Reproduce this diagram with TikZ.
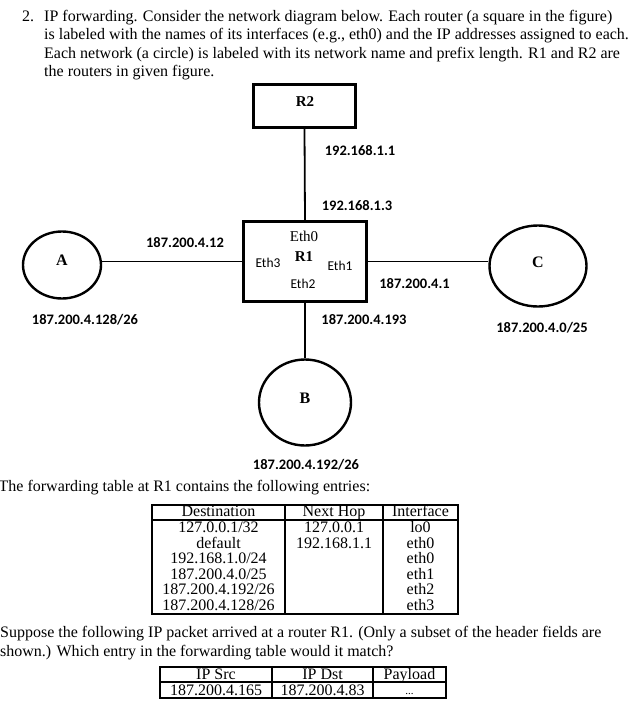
\documentclass[tikz,border=0pt]{standalone}
\usepackage{fontspec}
\setmainfont{Liberation Serif}
\newfontfamily\calibri{Carlito}
\usetikzlibrary{shapes.geometric}
\begin{document}
\begin{tikzpicture}[x=1pt,y=-1pt,
  body/.style={inner sep=0,anchor=base west,font=\fontsize{16}{16}\selectfont},
  router/.style={draw,rectangle,line width=2.4pt,inner sep=0},
  net/.style={draw,ellipse,line width=2.4pt,inner sep=0},
  link/.style={line width=1.8pt},
  ip/.style={inner sep=0,font=\calibri\bfseries\fontsize{14.5}{15}\selectfont},
  eth/.style={inner sep=0,font=\calibri\fontsize{13.5}{14}\selectfont},
  ethser/.style={inner sep=0,font=\fontsize{15}{15}\selectfont},
  rname/.style={inner sep=0,font=\bfseries\fontsize{15}{15}\selectfont},
  netname/.style={inner sep=0,font=\bfseries\fontsize{16}{16}\selectfont},
  cell/.style={inner sep=0,anchor=base,font=\fontsize{16}{16}\selectfont},
  grid/.style={line width=1.2pt}]
\useasboundingbox (0,0) rectangle (635,723);
\fill[white] (0,0) rectangle (635,723);

% question text
\node[body] (n2) at (22,21) {2.};
\node[body] (p1) at (44,21) {IP forwarding. Consider the network diagram below. Each router (a square in the figure)};
\node[body] (p2) at (44,39.5) {is labeled with the names of its interfaces (e.g., eth0) and the IP addresses assigned to each.};
\node[body] (p3) at (44,58) {Each network (a circle) is labeled with its network name and prefix length. R1 and R2 are};
\node[body] (p4) at (44,76.5) {the routers in given figure.};

% diagram
\node[router,minimum width=102,minimum height=43] (R2) at (304.5,106) {};
\node[rname] (R2lab) at (305,102) {R2};
\node[router,minimum width=123,minimum height=80] (R1) at (305,261.5) {};
\node[net,minimum width=78,minimum height=67] (A) at (62,265) {};
\node[net,minimum width=92,minimum height=86] (B) at (305,402.5) {};
\node[net,minimum width=97,minimum height=81] (C) at (538,266) {};

\draw[link] (R2.south) -- (R1.north);
\draw[link] (R1.west) -- (R1.west -| A.east);
\draw[link] (R1.east) -- (R1.east -| C.west);
\draw[link] (R1.south) -- (B.north);

\node[ethser] (eth0) at (304,236) {Eth0};
\node[rname] (R1lab) at (304,257) {R1};
\node[eth] (eth3) at (268,263) {Eth3};
\node[eth] (eth1) at (340,266) {Eth1};
\node[eth] (eth2) at (303,284) {Eth2};

\node[netname] (Alab) at (62,260) {A};
\node[netname] (Blab) at (305,398) {B};
\node[netname] (Clab) at (538,262) {C};

\node[ip] (ip1) at (360,151) {192.168.1.1};
\node[ip] (ip2) at (357,206) {192.168.1.3};
\node[ip] (ip3) at (185,243) {187.200.4.12};
\node[ip] (ip4) at (414.5,284) {187.200.4.1};
\node[ip] (ip5) at (364,320) {187.200.4.193};
\node[ip] (netA) at (85,320) {187.200.4.128/26};
\node[ip] (netC) at (542,328) {187.200.4.0/25};
\node[ip] (netB) at (306,465) {187.200.4.192/26};

% forwarding table
\node[body] (t1) at (-1.5,491) {The forwarding table at R1 contains the following entries:};
\draw[grid] (152,505) rectangle (458,614);
\draw[grid] (152,520) -- (458,520);
\draw[grid] (285,505) -- (285,614);
\draw[grid] (383,505) -- (383,614);
\node[cell] (h1) at (218.5,516) {Destination};
\node[cell] (h2) at (334,516) {Next Hop};
\node[cell] (h3) at (420.5,516) {Interface};
\node[cell] (d1) at (218.5,532.5) {127.0.0.1/32};
\node[cell] (d2) at (218.5,548.1) {default};
\node[cell] (d3) at (218.5,563.7) {192.168.1.0/24};
\node[cell] (d4) at (218.5,579.3) {187.200.4.0/25};
\node[cell] (d5) at (218.5,594.9) {187.200.4.192/26};
\node[cell] (d6) at (218.5,610.5) {187.200.4.128/26};
\node[cell] (nh1) at (334,532.5) {127.0.0.1};
\node[cell] (nh2) at (334,548.1) {192.168.1.1};
\node[cell] (i1) at (420.5,532.5) {lo0};
\node[cell] (i2) at (420.5,548.1) {eth0};
\node[cell] (i3) at (420.5,563.7) {eth0};
\node[cell] (i4) at (420.5,579.3) {eth1};
\node[cell] (i5) at (420.5,594.9) {eth2};
\node[cell] (i6) at (420.5,610.5) {eth3};

% packet
\node[body] (s1) at (0,637.5) {Suppose the following IP packet arrived at a router R1. (Only a subset of the header fields are};
\node[body] (s2) at (0,656) {shown.) Which entry in the forwarding table would it match?};
\draw[grid] (160,667) rectangle (446,698);
\draw[grid] (160,682) -- (446,682);
\draw[grid] (272,667) -- (272,698);
\draw[grid] (373,667) -- (373,698);
\node[cell] (ph1) at (216,679) {IP Src};
\node[cell] (ph2) at (322.5,679) {IP Dst};
\node[cell] (ph3) at (409.5,679) {Payload};
\node[cell] (pv1) at (216,695) {187.200.4.165};
\node[cell] (pv2) at (322.5,695) {187.200.4.83};
\node[cell,font=\fontsize{11}{11}\selectfont] (pv3) at (409.5,694) {...};
\end{tikzpicture}
\end{document}
